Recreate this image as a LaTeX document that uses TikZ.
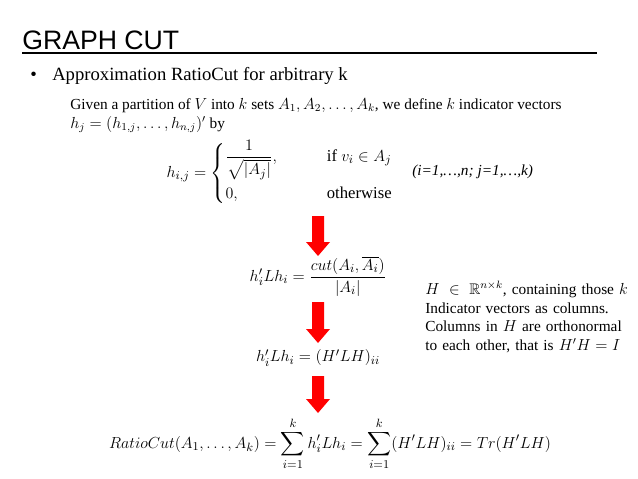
\documentclass[tikz,border=0pt]{standalone}
\usepackage{amsmath,amssymb}
\usepackage{fontspec}
\setmainfont{Liberation Serif}
\newfontfamily\titlefont{Liberation Sans}
\tikzset{
  txt/.style={inner sep=0pt, font=\fontsize{11.5}{14}\selectfont},
  eq/.style={inner sep=0pt, font=\fontsize{12.5}{15}\selectfont},
  redfill/.style={fill=red, draw=none}
}
\newcommand{\downarrowat}[3]{% x, ytop, ybottom
  \fill[redfill] (#1-6,#2) -- (#1+6,#2) -- (#1+6,#3-14) -- (#1+12,#3-14) -- (#1,#3) -- (#1-12,#3-14) -- (#1-6,#3-14) -- cycle;}
\begin{document}
\begin{tikzpicture}[x=0.75pt,y=-0.75pt]
\useasboundingbox (0,0) rectangle (638,478);
\node[anchor=base west, inner sep=0pt, font=\titlefont\fontsize{20}{22}\selectfont] (title) at (22,50) {GRAPH CUT};
\draw[line width=1.2pt] (22,53) -- (597,53);
\node[anchor=base west, inner sep=0pt, font=\fontsize{14}{16}\selectfont] (bul) at (30,80) {•};
\node[anchor=base west, inner sep=0pt, font=\fontsize{14}{16}\selectfont] (head) at (52,80) {Approximation RatioCut for arbitrary k};
\node[txt, anchor=base west] (p1) at (70,109) {Given a partition of $V$ into $k$ sets $A_1, A_2, \ldots, A_k$, we define $k$ indicator vectors};
\node[txt, anchor=base west] (p2) at (70,128) {$h_j = (h_{1,j}, \ldots, h_{n,j})'$ by};
\node[eq] (e1) at (280,173) {$h_{i,j} = \begin{cases} \dfrac{1}{\sqrt{|A_j|}}, & \qquad\text{if } v_i \in A_j\\[10pt] 0, & \qquad\text{otherwise}\end{cases}$};
\node[txt, anchor=west] (idx) at (412,172) {\itshape (i=1,\ldots,n; j=1,\ldots,k)};
\downarrowat{318}{216}{256}
\node[eq] (e2) at (318,276) {$h_i' L h_i = \dfrac{cut(A_i,\overline{A_i})}{|A_i|}$};
\downarrowat{318}{302}{343}
\node[eq] (e3) at (318,358) {$h_i' L h_i = (H'LH)_{ii}$};
\downarrowat{318}{376}{413}
\node[eq] (e4) at (330,444) {$RatioCut(A_1,\ldots,A_k) = \displaystyle\sum_{i=1}^{k} h_i' L h_i = \sum_{i=1}^{k} (H'LH)_{ii} = Tr(H'LH)$};
\node[txt, anchor=north west, align=left, text width=205pt] (side) at (425,281) {$H\ \in\ \mathbb{R}^{n\times k}$, containing those $k$\\ Indicator vectors as columns.\\ Columns in $H$ are orthonormal\\ to each other, that is $H'H = I$};
\end{tikzpicture}
\end{document}
